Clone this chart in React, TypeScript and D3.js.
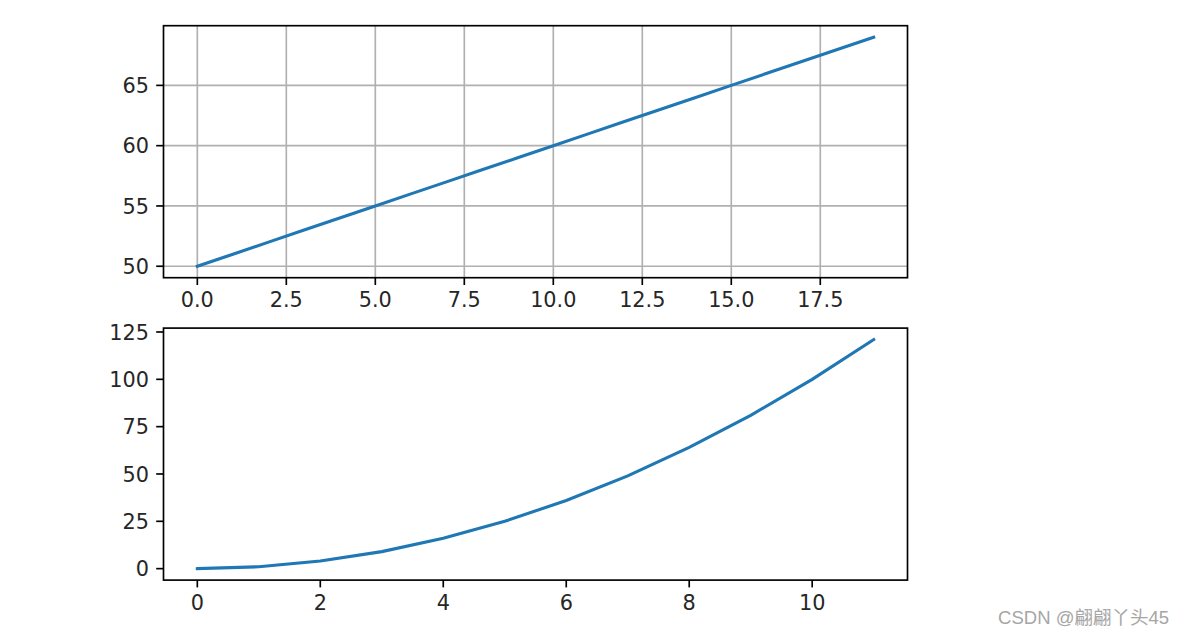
import {useEffect, useRef} from 'react';
import * as d3 from 'd3';

const topX = [0, 1, 2, 3, 4, 5, 6, 7, 8, 9, 10, 11, 12, 13, 14, 15, 16, 17, 18, 19];
const topY = [50, 51, 52, 53, 54, 55, 56, 57, 58, 59, 60, 61, 62, 63, 64, 65, 66, 67, 68, 69];
const topXTicks = [0, 2.5, 5, 7.5, 10, 12.5, 15, 17.5];
const topYTicks = [50, 55, 60, 65];

const bottomX = [0, 1, 2, 3, 4, 5, 6, 7, 8, 9, 10, 11];
const bottomY = [0, 1, 4, 9, 16, 25, 36, 49, 64, 81, 100, 121];
const bottomXTicks = [0, 2, 4, 6, 8, 10];
const bottomYTicks = [0, 25, 50, 75, 100, 125];

const watermark = 'CSDN @翩翩丫头45';

const W = 1186;
const H = 636;
const FONT = 20.8;
const TICK = 7.3;

const App = () => {
    const ref = useRef(null);

    useEffect(() => {
        d3.select(ref.current).selectAll('*').remove();
        const svg = d3.select(ref.current);

        const drawAxes = (top: number, xs: number[], ys: number[], xTicks: number[], yTicks: number[], fmt: (d: number) => string, grid: boolean) => {
            const left = 163.5, right = 907.5, height = 252;
            const bottom = top + height;
            const xExt = d3.extent(xs) as [number, number];
            const yExt = d3.extent(ys) as [number, number];
            const xm = (xExt[1] - xExt[0]) * 0.05;
            const ym = (yExt[1] - yExt[0]) * 0.05;
            const x = d3.scaleLinear().domain([xExt[0] - xm, xExt[1] + xm]).range([left, right]);
            const y = d3.scaleLinear().domain([yExt[0] - ym, yExt[1] + ym]).range([bottom, top]);

            const g = svg.append('g');

            if (grid) {
                g.selectAll('.gx').data(xTicks).enter().append('line')
                    .attr('x1', d => x(d)).attr('x2', d => x(d))
                    .attr('y1', top).attr('y2', bottom)
                    .attr('stroke', '#b0b0b0').attr('stroke-width', 1.67);
                g.selectAll('.gy').data(yTicks).enter().append('line')
                    .attr('x1', left).attr('x2', right)
                    .attr('y1', d => y(d)).attr('y2', d => y(d))
                    .attr('stroke', '#b0b0b0').attr('stroke-width', 1.67);
            }

            const line = d3.line<number>().x((d, i) => x(xs[i])).y(d => y(d));
            g.append('path')
                .attr('d', line(ys))
                .attr('fill', 'none')
                .attr('stroke', '#1f77b4')
                .attr('stroke-width', 3.1)
                .attr('stroke-linecap', 'square');

            g.append('rect')
                .attr('x', left).attr('y', top)
                .attr('width', right - left).attr('height', height)
                .attr('fill', 'none').attr('stroke', '#000').attr('stroke-width', 1.67);

            // x ticks
            g.selectAll('.tx').data(xTicks).enter().append('line')
                .attr('x1', d => x(d)).attr('x2', d => x(d))
                .attr('y1', bottom).attr('y2', bottom + TICK)
                .attr('stroke', '#000').attr('stroke-width', 1.67);
            g.selectAll('.lx').data(xTicks).enter().append('text')
                .attr('x', d => x(d))
                .attr('y', bottom + TICK * 2 + FONT * 0.729)
                .attr('text-anchor', 'middle')
                .style('font-family', 'DejaVu Sans')
                .style('font-size', `${FONT}px`)
                .attr('fill', '#262626')
                .text(d => fmt(d));

            // y ticks
            g.selectAll('.ty').data(yTicks).enter().append('line')
                .attr('x1', left - TICK).attr('x2', left)
                .attr('y1', d => y(d)).attr('y2', d => y(d))
                .attr('stroke', '#000').attr('stroke-width', 1.67);
            g.selectAll('.ly').data(yTicks).enter().append('text')
                .attr('x', left - TICK * 2)
                .attr('y', d => y(d) + FONT * 0.729 / 2)
                .attr('text-anchor', 'end')
                .style('font-family', 'DejaVu Sans')
                .style('font-size', `${FONT}px`)
                .attr('fill', '#262626')
                .text(d => String(d));
        };

        drawAxes(25.7, topX, topY, topXTicks, topYTicks, d => d.toFixed(1), true);
        drawAxes(328.1, bottomX, bottomY, bottomXTicks, bottomYTicks, d => String(d), false);

        svg.append('text')
            .attr('x', 1169)
            .attr('y', 624.3)
            .attr('text-anchor', 'end')
            .style('font-family', '"Liberation Sans", "Noto Sans CJK SC", sans-serif')
            .style('font-size', '18.5px')
            .attr('fill', '#a6a6a6')
            .text(watermark);
    }, []);

    return (
        <svg ref={ref} width={W} height={H}
             style={{position: 'absolute', left: 0, top: 0, background: '#fff'}}/>
    );
};

export default App;
